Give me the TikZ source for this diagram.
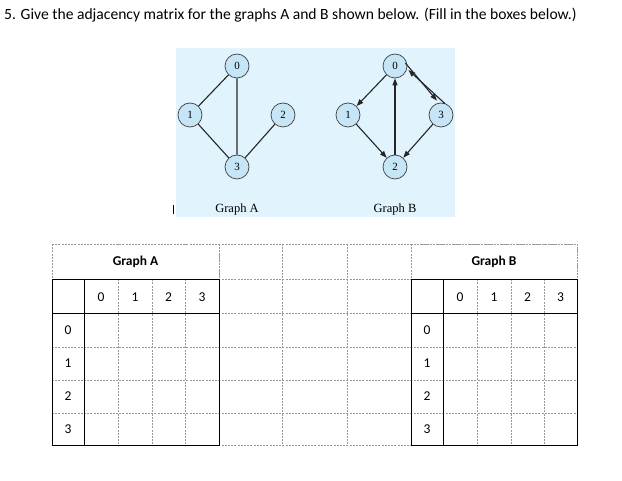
\documentclass[tikz,border=0pt]{standalone}
\usepackage{fontspec}
\setmainfont{Carlito}
\newfontfamily\serfont{Liberation Serif}
\usetikzlibrary{arrows.meta}
\definecolor{bgblue}{HTML}{E1F3FC}
\definecolor{ndblue}{HTML}{C6E6F7}
\definecolor{dgrid}{HTML}{999999}
\tikzset{
  vtx/.style={circle,draw=black!75,fill=ndblue,line width=0.7pt,minimum size=24pt,inner sep=0pt,font=\serfont\fontsize{11}{12}\selectfont},
  edg/.style={line width=1.1pt,black!85},
  arr/.style={edg,-{Triangle[length=7pt,width=5pt]}},
  dgr/.style={dgrid,line width=0.6pt,dash pattern=on 2pt off 1.2pt},
  sgr/.style={black,line width=0.9pt},
  tx/.style={font=\fontsize{13.5}{15}\selectfont}
}
\begin{document}
\begin{tikzpicture}[x=1pt,y=-1pt]
\useasboundingbox (0,0) rectangle (622,481);
\node[anchor=west,font=\fontsize{15.6}{17}\selectfont,inner sep=0pt] (title) at (4,15) {5. Give the adjacency matrix for the graphs A and B shown below. (Fill in the boxes below.)};
\fill[bgblue] (176,48) rectangle (455,217);
\draw[line width=0.8pt] (173,205) -- (173,214);
% Graph A
\node[vtx] (a0) at (237,66) {0};
\node[vtx] (a1) at (190,115) {1};
\node[vtx] (a2) at (283,115) {2};
\node[vtx] (a3) at (237,167) {3};
\draw[edg] (a0)--(a1) (a0)--(a3) (a1)--(a3) (a2)--(a3);
\node[font=\serfont\fontsize{12.5}{14}\selectfont] (la) at (237,209) {Graph A};
% Graph B
\node[vtx] (b0) at (395,66) {0};
\node[vtx] (b1) at (348,115) {1};
\node[vtx] (b3) at (441,115) {3};
\node[vtx] (b2) at (395,167) {2};
\draw[arr] (b0)--(b1);
\draw[arr] (b1)--(b2);
\draw[arr] (b2)--(b0);
\draw[arr] (b3)--(b2);
\draw[arr] ([xshift=-2pt,yshift=3pt]b0.east) -- ([xshift=-4pt,yshift=2pt]b3.north);
\draw[arr] ([xshift=4pt,yshift=-1pt]b3.north) -- ([xshift=1pt,yshift=-4pt]b0.east);
\node[font=\serfont\fontsize{12.5}{14}\selectfont] (lb) at (395,209) {Graph B};
% dashed grid
\foreach \y in {244,279,313,347,380,413,445} \draw[dgr] (52,\y) -- (577,\y);
\foreach \x in {52,84,118,152,185,219,282,347,411,443,477,511,544,577} \draw[dgr] (\x,244) -- (\x,445);
\fill[white] (53,245) rectangle (218,278);
\fill[white] (412,245) rectangle (576,278);
\draw[dgr] (52,244) -- (219,244) -- (219,279) (411,244)--(577,244)--(577,279) (52,244)--(52,279) (411,244)--(411,279);
% solid frames
\draw[sgr] (52,279) rectangle (219,445);
\draw[sgr] (84,279) -- (84,445) (52,313) -- (219,313);
\draw[sgr] (411,279) rectangle (577,445);
\draw[sgr] (443,279) -- (443,445) (411,313) -- (577,313);
\node[font=\bfseries\fontsize{13.5}{15}\selectfont] (ga) at (135.5,262) {Graph A};
\node[font=\bfseries\fontsize{13.5}{15}\selectfont] (gb) at (494,262) {Graph B};
\foreach \v/\x in {0/101,1/135,2/168.5,3/202} {
  \node[tx] (ca\v) at (\x,297) {\v};
}
\foreach \v/\x in {0/460,1/494,2/527.5,3/560.5} {
  \node[tx] (cb\v) at (\x,297) {\v};
}
\foreach \v/\y in {0/330,1/363.5,2/396.5,3/429} {
  \node[tx] (ra\v) at (68,\y) {\v};
  \node[tx] (rb\v) at (427,\y) {\v};
}
\end{tikzpicture}
\end{document}
